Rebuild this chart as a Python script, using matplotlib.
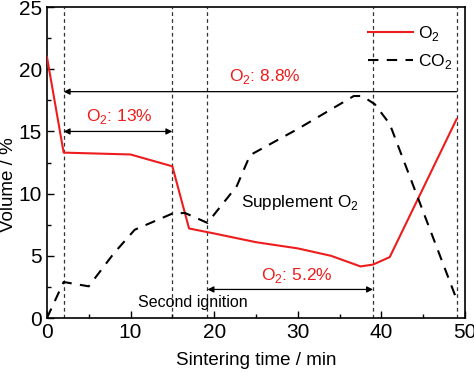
import matplotlib
matplotlib.use("Agg")
import matplotlib.pyplot as plt
from matplotlib.ticker import MultipleLocator

plt.rcParams['font.family'] = ['Liberation Sans', 'DejaVu Sans']
plt.rcParams['mathtext.fontset'] = 'custom'
plt.rcParams['mathtext.rm'] = 'Liberation Sans'

o2_t = [0, 2, 10, 15, 17, 20, 25, 30, 34, 37.5, 39, 41, 49]
o2_v = [21.0, 13.3, 13.15, 12.2, 7.2, 6.8, 6.1, 5.6, 5.0, 4.15, 4.3, 4.9, 16.0]

co2_t = [0, 2, 5, 8, 10.5, 15, 16.5, 19.2, 22.7, 24.3, 30, 36.7, 37.7, 39.2, 41, 49]
co2_v = [0.0, 2.9, 2.55, 5.2, 7.1, 8.4, 8.45, 7.65, 10.6, 13.1, 15.2, 17.85, 17.85, 17.2, 15.6, 1.5]

vlines = [2, 15, 19.2, 39, 49]

red = '#ee1c1c'

fig = plt.figure(figsize=(4.74, 3.72), dpi=100)
ax = fig.add_axes([0.099, 0.145, 0.882, 0.836])

for xv in vlines:
    ax.axvline(xv, color='#333333', lw=0.9, ls=(0, (3, 2.5)), zorder=1)

ax.plot(o2_t, o2_v, color=red, lw=1.5, label='O$_2$', zorder=3)
ax.plot(co2_t, co2_v, color='black', lw=1.5, ls=(0, (5, 4)), label='CO$_2$', zorder=3)

arrow_kw = dict(arrowstyle='<|-|>', color='black', lw=0.9, mutation_scale=9, shrinkA=0, shrinkB=0)
ax.annotate('', xy=(2, 15.0), xytext=(15, 15.0), arrowprops=arrow_kw)
ax.annotate('', xy=(19.2, 2.3), xytext=(39, 2.3), arrowprops=arrow_kw)
ax.annotate('', xy=(2, 18.2), xytext=(49, 18.2),
            arrowprops=dict(arrowstyle='-|>', color='black', lw=0.9, mutation_scale=9, shrinkA=0, shrinkB=0))

ax.text(8.7, 16.2, 'O$_2$: 13%', color=red, fontsize=12.5, ha='center', va='center')
ax.text(26.0, 19.4, 'O$_2$: 8.8%', color=red, fontsize=12.5, ha='center', va='center')
ax.text(29.9, 3.4, 'O$_2$: 5.2%', color=red, fontsize=12.5, ha='center', va='center')
ax.text(17.5, 1.25, 'Second ignition', color='black', fontsize=11.5, ha='center', va='center')
ax.text(30.3, 9.3, 'Supplement O$_2$', color='black', fontsize=12.3, ha='center', va='center')

ax.set_xlim(0, 50)
ax.set_ylim(0, 25)
ax.xaxis.set_major_locator(MultipleLocator(10))
ax.xaxis.set_minor_locator(MultipleLocator(5))
ax.yaxis.set_major_locator(MultipleLocator(5))
ax.yaxis.set_minor_locator(MultipleLocator(2.5))
ax.tick_params(which='both', direction='in', width=1.0)
ax.tick_params(which='major', length=5, labelsize=15)
ax.tick_params(which='minor', length=3)
for s in ax.spines.values():
    s.set_linewidth(1.2)

ax.set_xlabel('Sintering time / min', fontsize=13.5, labelpad=7)
ax.set_ylabel('Volume / %', fontsize=13.5)
ax.yaxis.set_label_coords(-0.071, 0.43)

leg = ax.legend(loc='upper right', fontsize=12.5, frameon=False, handlelength=2.6,
                bbox_to_anchor=(1.0, 0.985), borderaxespad=0.3, handletextpad=0.3, labelspacing=0.55)

fig.savefig('out.png', dpi=100)
